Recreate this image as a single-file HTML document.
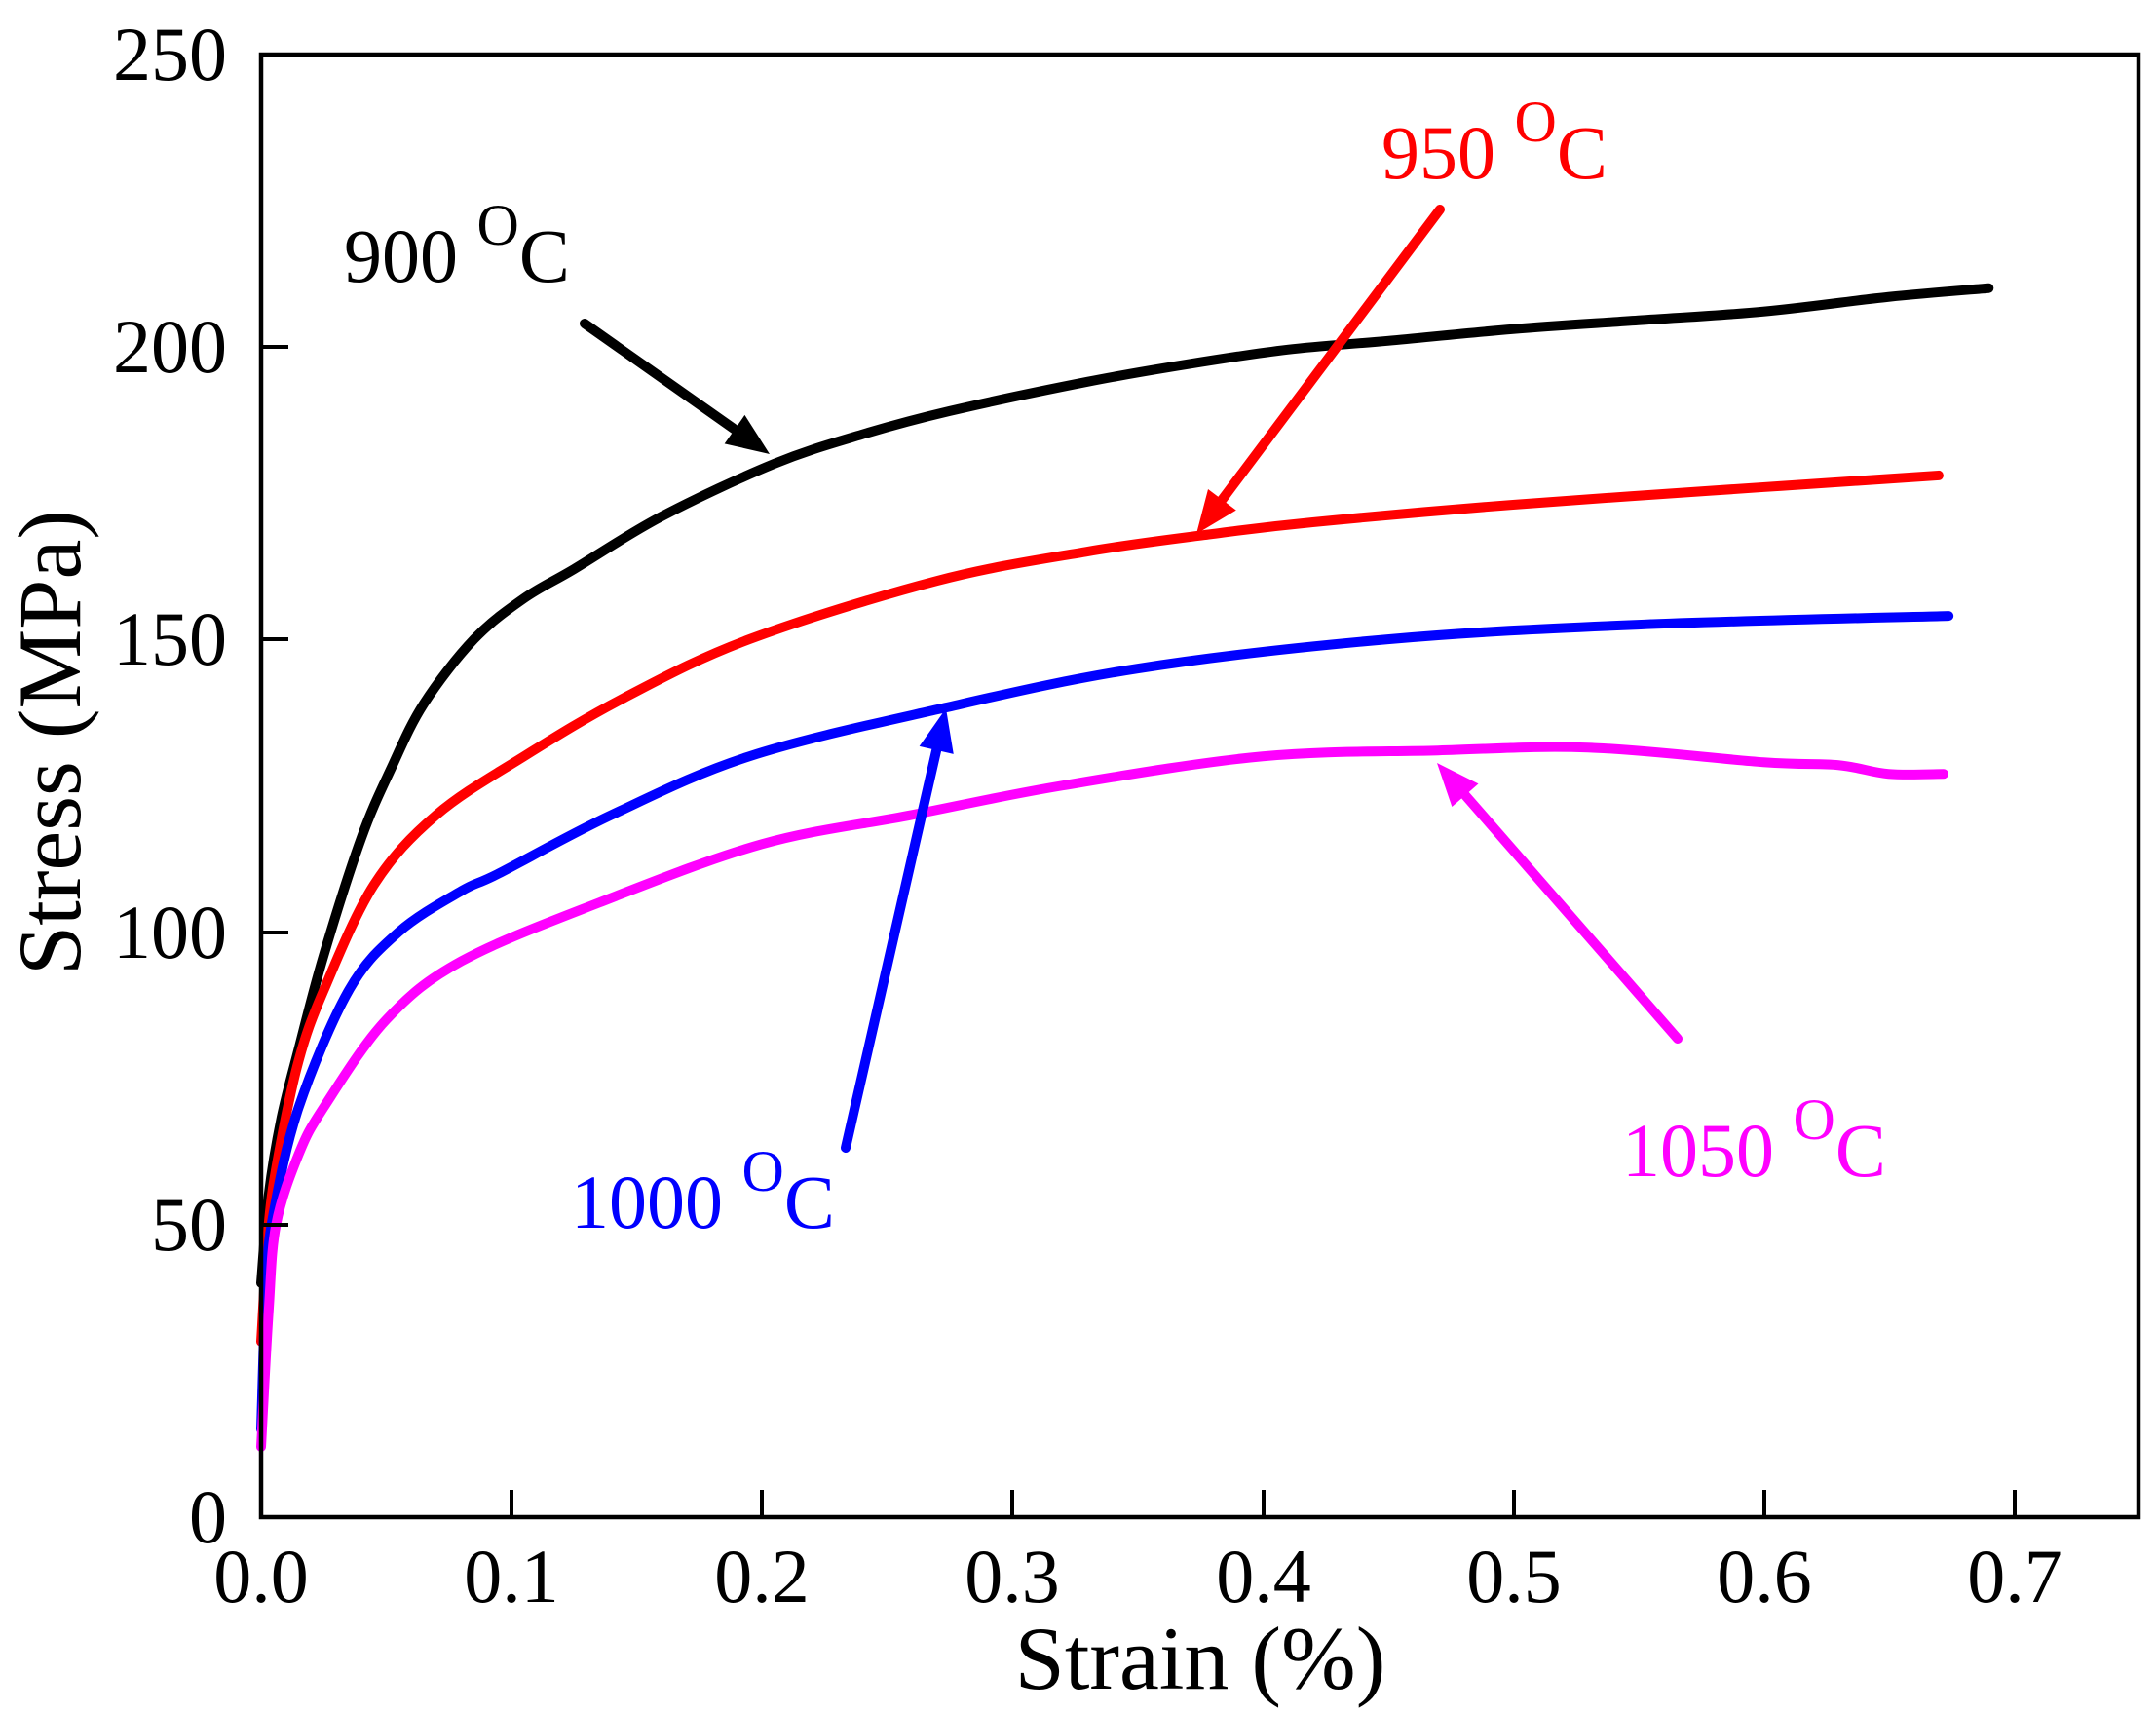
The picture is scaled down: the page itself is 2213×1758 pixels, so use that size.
<!DOCTYPE html>
<html><head><meta charset="utf-8">
<style>
html,body{margin:0;padding:0;background:#fff;}
svg{display:block;}
text{font-family:"Liberation Serif","Times New Roman",serif;}
</style></head>
<body>
<svg id="s" width="2213" height="1758" viewBox="0 0 2213 1758" xmlns="http://www.w3.org/2000/svg">
<rect width="2213" height="1758" fill="#fff"/>
<g id="curves" fill="none" stroke-linejoin="round" stroke-linecap="round" stroke-width="10"></g>
<rect x="268" y="56" width="1927" height="1501" fill="none" stroke="#000" stroke-width="4.5"/>
<g stroke="#000" stroke-width="4">
<line x1="525" y1="1557" x2="525" y2="1529"/>
<line x1="782" y1="1557" x2="782" y2="1529"/>
<line x1="1039" y1="1557" x2="1039" y2="1529"/>
<line x1="1297" y1="1557" x2="1297" y2="1529"/>
<line x1="1554" y1="1557" x2="1554" y2="1529"/>
<line x1="1811" y1="1557" x2="1811" y2="1529"/>
<line x1="2068" y1="1557" x2="2068" y2="1529"/>
<line x1="268" y1="1257" x2="296" y2="1257"/>
<line x1="268" y1="957" x2="296" y2="957"/>
<line x1="268" y1="656" x2="296" y2="656"/>
<line x1="268" y1="356" x2="296" y2="356"/>
</g>
<g font-size="78" text-anchor="end">
<text x="233" y="1583">0</text>
<text x="233" y="1283">50</text>
<text x="233" y="983">100</text>
<text x="233" y="682">150</text>
<text x="233" y="382">200</text>
<text x="233" y="82">250</text>
</g>
<g font-size="78" text-anchor="middle">
<text x="268" y="1644">0.0</text>
<text x="525" y="1644">0.1</text>
<text x="782" y="1644">0.2</text>
<text x="1039" y="1644">0.3</text>
<text x="1297" y="1644">0.4</text>
<text x="1554" y="1644">0.5</text>
<text x="1811" y="1644">0.6</text>
<text x="2068" y="1644">0.7</text>
</g>
<text x="1232" y="1733" font-size="92" text-anchor="middle">Strain (%)</text>
<text transform="translate(82,762) rotate(-90)" font-size="92" text-anchor="middle">Stress (MPa)</text>
<g id="arrows"></g>
<text x="353" y="289" font-size="78" fill="#000">900 <tspan font-size="60" dy="-38">O</tspan><tspan dy="38">C</tspan></text>
<text x="1418" y="183" font-size="78" fill="#ff0000">950 <tspan font-size="60" dy="-38">O</tspan><tspan dy="38">C</tspan></text>
<text x="586" y="1260" font-size="78" fill="#0000ff">1000 <tspan font-size="60" dy="-38">O</tspan><tspan dy="38">C</tspan></text>
<text x="1665" y="1207" font-size="78" fill="#ff00ff">1050 <tspan font-size="60" dy="-38">O</tspan><tspan dy="38">C</tspan></text>
</svg>
<script>
(function(){
var X=function(e){return 268+2570*e;}, Y=function(s){return 1557-6.006*s;};
var series=[
["#000",[[0,40],[0.003,55],[0.008,68],[0.015,80],[0.025,96],[0.04,116],[0.052,128],[0.065,139],[0.085,150],[0.105,157],[0.125,162],[0.16,171],[0.205,180],[0.24,185],[0.275,189],[0.33,194],[0.37,197],[0.41,199.5],[0.45,201],[0.5,203],[0.55,204.5],[0.6,206],[0.65,208.5],[0.69,210]]],
["#ff0000",[[0,30],[0.003,50],[0.007,62],[0.015,78],[0.025,90],[0.045,108],[0.07,120],[0.105,130],[0.145,140],[0.195,150],[0.27,160],[0.33,165],[0.38,168],[0.42,170],[0.5,173],[0.6,176],[0.67,178]]],
["#0000ff",[[0,15],[0.002,40],[0.005,52],[0.015,70],[0.035,90],[0.055,100],[0.08,107],[0.095,110],[0.14,120],[0.195,130],[0.27,138],[0.35,145],[0.45,150],[0.55,152.5],[0.674,154]]],
["#ff00ff",[[0,12],[0.003,35],[0.006,50],[0.015,62],[0.025,70],[0.05,85],[0.08,95],[0.135,105],[0.2,115],[0.26,120],[0.32,125],[0.4,130],[0.47,131],[0.53,131.5],[0.6,129],[0.63,128.5],[0.65,127],[0.672,127]]]
];
var g=document.getElementById('curves'),ns="http://www.w3.org/2000/svg";
series.forEach(function(sr){
  var p=sr[1].map(function(a){return [X(a[0]),Y(a[1])];});
  var d="M"+p[0][0]+","+p[0][1];
  for(var i=0;i<p.length-1;i++){
    var p0=p[Math.max(i-1,0)],p1=p[i],p2=p[i+1],p3=p[Math.min(i+2,p.length-1)];
    var c1=[p1[0]+(p2[0]-p0[0])/6,p1[1]+(p2[1]-p0[1])/6],c2=[p2[0]-(p3[0]-p1[0])/6,p2[1]-(p3[1]-p1[1])/6];
    d+=" C"+c1[0]+","+c1[1]+" "+c2[0]+","+c2[1]+" "+p2[0]+","+p2[1];
  }
  var e=document.createElementNS(ns,"path");e.setAttribute("d",d);e.setAttribute("stroke",sr[0]);g.appendChild(e);
});
var arr=[["#000",600,332,790,466],["#ff0000",1478,215,1228,548],["#0000ff",868,1178,971,727],["#ff00ff",1722,1066,1475,783]];
var ag=document.getElementById('arrows');
arr.forEach(function(a){
  var dx=a[3]-a[1],dy=a[4]-a[2],L=Math.sqrt(dx*dx+dy*dy),ux=dx/L,uy=dy/L,h=44,w=18;
  var bx=a[3]-ux*h,by=a[4]-uy*h;
  var l=document.createElementNS(ns,"line");
  l.setAttribute("x1",a[1]);l.setAttribute("y1",a[2]);l.setAttribute("x2",bx);l.setAttribute("y2",by);
  l.setAttribute("stroke",a[0]);l.setAttribute("stroke-width","10");l.setAttribute("stroke-linecap","round");ag.appendChild(l);
  var t=document.createElementNS(ns,"polygon");
  t.setAttribute("points",a[3]+","+a[4]+" "+(bx-uy*w)+","+(by+ux*w)+" "+(bx+uy*w)+","+(by-ux*w));
  t.setAttribute("fill",a[0]);ag.appendChild(t);
});
})();
</script>
</body></html>
